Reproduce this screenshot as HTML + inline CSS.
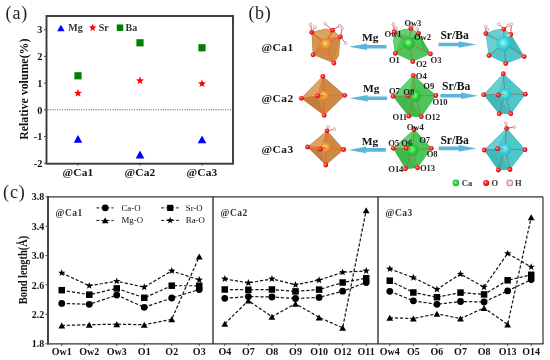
<!DOCTYPE html>
<html><head><meta charset="utf-8"><style>
html,body{margin:0;padding:0;background:#fff;}
svg{display:block;}
</style></head><body>
<svg width="550" height="360" viewBox="0 0 550 360" font-family="Liberation Serif, Times New Roman, serif">
<defs>
<radialGradient id="gO" cx="0.42" cy="0.42" r="0.65"><stop offset="0" stop-color="#ffe0e0"/><stop offset="0.3" stop-color="#ff3a3a"/><stop offset="0.75" stop-color="#e00808"/><stop offset="1" stop-color="#a80000"/></radialGradient>
<radialGradient id="gMg" cx="0.45" cy="0.42" r="0.65"><stop offset="0" stop-color="#ffd890"/><stop offset="0.4" stop-color="#f0a040"/><stop offset="1" stop-color="#d07418"/></radialGradient>
<radialGradient id="gSr" cx="0.45" cy="0.45" r="0.65"><stop offset="0" stop-color="#a8f4f4"/><stop offset="0.45" stop-color="#3cd6de"/><stop offset="1" stop-color="#22b0b8"/></radialGradient>
<radialGradient id="gCa" cx="0.45" cy="0.45" r="0.65"><stop offset="0" stop-color="#a0f8a8"/><stop offset="0.45" stop-color="#30d040"/><stop offset="1" stop-color="#18a828"/></radialGradient>
</defs>
<rect width="550" height="360" fill="#fff"/>
<text x="5.5" y="18.5" font-size="18" font-weight="normal" text-anchor="start" fill="#222" letter-spacing="0.9">(a)</text>
<line x1="47.5" y1="109.80" x2="232" y2="109.80" stroke="#666" stroke-width="1" stroke-dasharray="1.2,1.2"/>
<rect x="46.5" y="16" width="186.5" height="147.7" fill="none" stroke="#383838" stroke-width="1.9"/>
<line x1="44.0" y1="29.70" x2="46.5" y2="29.70" stroke="#444" stroke-width="1"/>
<text x="42.3" y="33.5" font-size="11.2" font-weight="bold" text-anchor="end" fill="#111" transform="translate(42.3,0) scale(0.92,1) translate(-42.3,0)">3</text>
<line x1="44.0" y1="56.40" x2="46.5" y2="56.40" stroke="#444" stroke-width="1"/>
<text x="42.3" y="60.199999999999996" font-size="11.2" font-weight="bold" text-anchor="end" fill="#111" transform="translate(42.3,0) scale(0.92,1) translate(-42.3,0)">2</text>
<line x1="44.0" y1="83.10" x2="46.5" y2="83.10" stroke="#444" stroke-width="1"/>
<text x="42.3" y="86.89999999999999" font-size="11.2" font-weight="bold" text-anchor="end" fill="#111" transform="translate(42.3,0) scale(0.92,1) translate(-42.3,0)">1</text>
<line x1="44.0" y1="109.80" x2="46.5" y2="109.80" stroke="#444" stroke-width="1"/>
<text x="42.3" y="113.6" font-size="11.2" font-weight="bold" text-anchor="end" fill="#111" transform="translate(42.3,0) scale(0.92,1) translate(-42.3,0)">0</text>
<line x1="44.0" y1="136.50" x2="46.5" y2="136.50" stroke="#444" stroke-width="1"/>
<text x="42.3" y="140.3" font-size="11.2" font-weight="bold" text-anchor="end" fill="#111" transform="translate(42.3,0) scale(0.92,1) translate(-42.3,0)">-1</text>
<line x1="44.0" y1="163.20" x2="46.5" y2="163.20" stroke="#444" stroke-width="1"/>
<text x="42.3" y="167.0" font-size="11.2" font-weight="bold" text-anchor="end" fill="#111" transform="translate(42.3,0) scale(0.92,1) translate(-42.3,0)">-2</text>
<line x1="78" y1="163.7" x2="78" y2="165.7" stroke="#444" stroke-width="1"/>
<text x="78" y="176.2" font-size="11.4" font-weight="bold" text-anchor="middle" fill="#111" letter-spacing="0.2">@Ca1</text>
<line x1="140" y1="163.7" x2="140" y2="165.7" stroke="#444" stroke-width="1"/>
<text x="140" y="176.2" font-size="11.4" font-weight="bold" text-anchor="middle" fill="#111" letter-spacing="0.2">@Ca2</text>
<line x1="202" y1="163.7" x2="202" y2="165.7" stroke="#444" stroke-width="1"/>
<text x="202" y="176.2" font-size="11.4" font-weight="bold" text-anchor="middle" fill="#111" letter-spacing="0.2">@Ca3</text>
<text x="0" y="0" font-size="13" font-weight="bold" text-anchor="middle" fill="#111" transform="translate(27.9,89.2) rotate(-90) scale(0.915,1)">Relative volume(%)</text>
<polygon points="57.15,31.15 64.65,31.15 60.90,24.65" fill="#0000ff"/>
<text x="68.2" y="31" font-size="10" font-weight="bold" text-anchor="start" fill="#333" >Mg</text>
<polygon points="92.70,23.70 93.69,26.34 96.50,26.46 94.30,28.22 95.05,30.94 92.70,29.38 90.35,30.94 91.10,28.22 88.90,26.46 91.71,26.34" fill="#ff0000"/>
<text x="98.7" y="31" font-size="10" font-weight="bold" text-anchor="start" fill="#333" >Sr</text>
<rect x="116.75" y="24.45" width="6.5" height="6.5" fill="#007f00"/>
<text x="125.5" y="31" font-size="10" font-weight="bold" text-anchor="start" fill="#333" >Ba</text>
<rect x="74.40" y="72.20" width="7.2" height="7.2" fill="#007f00"/>
<polygon points="78.00,89.10 79.04,91.87 81.99,92.00 79.68,93.85 80.47,96.70 78.00,95.06 75.53,96.70 76.32,93.85 74.01,92.00 76.96,91.87" fill="#ff0000"/>
<polygon points="73.70,142.70 82.30,142.70 78.00,134.90" fill="#0000ff"/>
<rect x="136.40" y="39.20" width="7.2" height="7.2" fill="#007f00"/>
<polygon points="140.00,76.60 141.04,79.37 143.99,79.50 141.68,81.35 142.47,84.20 140.00,82.56 137.53,84.20 138.32,81.35 136.01,79.50 138.96,79.37" fill="#ff0000"/>
<polygon points="135.70,158.40 144.30,158.40 140.00,150.60" fill="#0000ff"/>
<rect x="198.40" y="44.20" width="7.2" height="7.2" fill="#007f00"/>
<polygon points="202.00,79.50 203.04,82.27 205.99,82.40 203.68,84.25 204.47,87.10 202.00,85.46 199.53,87.10 200.32,84.25 198.01,82.40 200.96,82.27" fill="#ff0000"/>
<polygon points="197.70,143.20 206.30,143.20 202.00,135.40" fill="#0000ff"/>
<text x="3" y="197.5" font-size="18" font-weight="normal" text-anchor="start" fill="#222" letter-spacing="0.9">(c)</text>
<line x1="48" y1="196.9" x2="543" y2="196.9" stroke="#333" stroke-width="1.3"/>
<line x1="543" y1="196.9" x2="543" y2="343.9" stroke="#333" stroke-width="1.2"/>
<line x1="47.8" y1="343.9" x2="543.6" y2="343.9" stroke="#333" stroke-width="1.4"/>
<line x1="48" y1="196.3" x2="48" y2="344.59999999999997" stroke="#444" stroke-width="2"/>
<line x1="213" y1="196.9" x2="213" y2="343.9" stroke="#333" stroke-width="1.4"/>
<line x1="378" y1="196.9" x2="378" y2="343.9" stroke="#333" stroke-width="1.4"/>
<line x1="45.5" y1="196.80" x2="48" y2="196.80" stroke="#444" stroke-width="1"/>
<text x="44.2" y="200.30000000000004" font-size="10" font-weight="bold" text-anchor="end" fill="#111" >3.8</text>
<line x1="45.5" y1="226.20" x2="48" y2="226.20" stroke="#444" stroke-width="1"/>
<text x="44.2" y="229.70000000000002" font-size="10" font-weight="bold" text-anchor="end" fill="#111" >3.4</text>
<line x1="45.5" y1="255.60" x2="48" y2="255.60" stroke="#444" stroke-width="1"/>
<text x="44.2" y="259.1" font-size="10" font-weight="bold" text-anchor="end" fill="#111" >3.0</text>
<line x1="45.5" y1="285.00" x2="48" y2="285.00" stroke="#444" stroke-width="1"/>
<text x="44.2" y="288.5" font-size="10" font-weight="bold" text-anchor="end" fill="#111" >2.6</text>
<line x1="45.5" y1="314.40" x2="48" y2="314.40" stroke="#444" stroke-width="1"/>
<text x="44.2" y="317.9" font-size="10" font-weight="bold" text-anchor="end" fill="#111" >2.2</text>
<line x1="45.5" y1="343.80" x2="48" y2="343.80" stroke="#444" stroke-width="1"/>
<text x="44.2" y="347.3" font-size="10" font-weight="bold" text-anchor="end" fill="#111" >1.8</text>
<text x="0" y="0" font-size="11.8" font-weight="bold" text-anchor="middle" fill="#111" transform="translate(26.6,270) rotate(-90) scale(0.88,1)">Bond length(Å)</text>
<line x1="61.75" y1="343.9" x2="61.75" y2="345.9" stroke="#444" stroke-width="1"/>
<text x="61.75" y="354.6" font-size="10" font-weight="bold" text-anchor="middle" fill="#111" >Ow1</text>
<line x1="89.25" y1="343.9" x2="89.25" y2="345.9" stroke="#444" stroke-width="1"/>
<text x="89.25" y="354.6" font-size="10" font-weight="bold" text-anchor="middle" fill="#111" >Ow2</text>
<line x1="116.75" y1="343.9" x2="116.75" y2="345.9" stroke="#444" stroke-width="1"/>
<text x="116.75" y="354.6" font-size="10" font-weight="bold" text-anchor="middle" fill="#111" >Ow3</text>
<line x1="144.25" y1="343.9" x2="144.25" y2="345.9" stroke="#444" stroke-width="1"/>
<text x="144.25" y="354.6" font-size="10" font-weight="bold" text-anchor="middle" fill="#111" >O1</text>
<line x1="171.75" y1="343.9" x2="171.75" y2="345.9" stroke="#444" stroke-width="1"/>
<text x="171.75" y="354.6" font-size="10" font-weight="bold" text-anchor="middle" fill="#111" >O2</text>
<line x1="199.25" y1="343.9" x2="199.25" y2="345.9" stroke="#444" stroke-width="1"/>
<text x="199.25" y="354.6" font-size="10" font-weight="bold" text-anchor="middle" fill="#111" >O3</text>
<polyline points="61.75,273.00 89.25,285.70 116.75,281.20 144.25,287.10 171.75,270.90 199.25,279.90" fill="none" stroke="#111" stroke-width="1.2" stroke-dasharray="3.2,1.9"/>
<polyline points="61.75,290.20 89.25,294.70 116.75,288.40 144.25,297.80 171.75,285.70 199.25,285.80" fill="none" stroke="#111" stroke-width="1.2" stroke-dasharray="3.2,1.9"/>
<polyline points="61.75,303.40 89.25,304.30 116.75,295.10 144.25,307.30 171.75,298.00 199.25,289.50" fill="none" stroke="#111" stroke-width="1.2" stroke-dasharray="3.2,1.9"/>
<polyline points="61.75,325.50 89.25,324.70 116.75,324.20 144.25,324.70 171.75,319.30 199.25,256.50" fill="none" stroke="#111" stroke-width="1.2" stroke-dasharray="3.2,1.9"/>
<polygon points="61.75,269.20 62.69,271.71 65.36,271.83 63.27,273.49 63.98,276.07 61.75,274.60 59.52,276.07 60.23,273.49 58.14,271.83 60.81,271.71" fill="#000"/>
<rect x="58.50" y="286.95" width="6.5" height="6.5" fill="#000"/>
<circle cx="61.75" cy="303.40" r="3.4" fill="#000"/>
<polygon points="58.35,328.50 65.15,328.50 61.75,322.50" fill="#000"/>
<polygon points="89.25,281.90 90.19,284.41 92.86,284.53 90.77,286.19 91.48,288.77 89.25,287.30 87.02,288.77 87.73,286.19 85.64,284.53 88.31,284.41" fill="#000"/>
<rect x="86.00" y="291.45" width="6.5" height="6.5" fill="#000"/>
<circle cx="89.25" cy="304.30" r="3.4" fill="#000"/>
<polygon points="85.85,327.70 92.65,327.70 89.25,321.70" fill="#000"/>
<polygon points="116.75,277.40 117.69,279.91 120.36,280.03 118.27,281.69 118.98,284.27 116.75,282.80 114.52,284.27 115.23,281.69 113.14,280.03 115.81,279.91" fill="#000"/>
<rect x="113.50" y="285.15" width="6.5" height="6.5" fill="#000"/>
<circle cx="116.75" cy="295.10" r="3.4" fill="#000"/>
<polygon points="113.35,327.20 120.15,327.20 116.75,321.20" fill="#000"/>
<polygon points="144.25,283.30 145.19,285.81 147.86,285.93 145.77,287.59 146.48,290.17 144.25,288.70 142.02,290.17 142.73,287.59 140.64,285.93 143.31,285.81" fill="#000"/>
<rect x="141.00" y="294.55" width="6.5" height="6.5" fill="#000"/>
<circle cx="144.25" cy="307.30" r="3.4" fill="#000"/>
<polygon points="140.85,327.70 147.65,327.70 144.25,321.70" fill="#000"/>
<polygon points="171.75,267.10 172.69,269.61 175.36,269.73 173.27,271.39 173.98,273.97 171.75,272.50 169.52,273.97 170.23,271.39 168.14,269.73 170.81,269.61" fill="#000"/>
<rect x="168.50" y="282.45" width="6.5" height="6.5" fill="#000"/>
<circle cx="171.75" cy="298.00" r="3.4" fill="#000"/>
<polygon points="168.35,322.30 175.15,322.30 171.75,316.30" fill="#000"/>
<polygon points="199.25,276.10 200.19,278.61 202.86,278.73 200.77,280.39 201.48,282.97 199.25,281.50 197.02,282.97 197.73,280.39 195.64,278.73 198.31,278.61" fill="#000"/>
<rect x="196.00" y="282.55" width="6.5" height="6.5" fill="#000"/>
<circle cx="199.25" cy="289.50" r="3.4" fill="#000"/>
<polygon points="195.85,259.50 202.65,259.50 199.25,253.50" fill="#000"/>
<line x1="224.79" y1="343.9" x2="224.79" y2="345.9" stroke="#444" stroke-width="1"/>
<text x="224.79" y="354.6" font-size="10" font-weight="bold" text-anchor="middle" fill="#111" >O4</text>
<line x1="248.36" y1="343.9" x2="248.36" y2="345.9" stroke="#444" stroke-width="1"/>
<text x="248.36" y="354.6" font-size="10" font-weight="bold" text-anchor="middle" fill="#111" >O7</text>
<line x1="271.93" y1="343.9" x2="271.93" y2="345.9" stroke="#444" stroke-width="1"/>
<text x="271.93" y="354.6" font-size="10" font-weight="bold" text-anchor="middle" fill="#111" >O8</text>
<line x1="295.50" y1="343.9" x2="295.50" y2="345.9" stroke="#444" stroke-width="1"/>
<text x="295.50" y="354.6" font-size="10" font-weight="bold" text-anchor="middle" fill="#111" >O9</text>
<line x1="319.07" y1="343.9" x2="319.07" y2="345.9" stroke="#444" stroke-width="1"/>
<text x="319.07" y="354.6" font-size="10" font-weight="bold" text-anchor="middle" fill="#111" >O10</text>
<line x1="342.64" y1="343.9" x2="342.64" y2="345.9" stroke="#444" stroke-width="1"/>
<text x="342.64" y="354.6" font-size="10" font-weight="bold" text-anchor="middle" fill="#111" >O12</text>
<line x1="366.21" y1="343.9" x2="366.21" y2="345.9" stroke="#444" stroke-width="1"/>
<text x="366.21" y="354.6" font-size="10" font-weight="bold" text-anchor="middle" fill="#111" >O11</text>
<polyline points="224.79,278.90 248.36,282.90 271.93,278.90 295.50,284.80 319.07,280.10 342.64,272.30 366.21,270.90" fill="none" stroke="#111" stroke-width="1.2" stroke-dasharray="3.2,1.9"/>
<polyline points="224.79,289.50 248.36,289.80 271.93,289.50 295.50,291.40 319.07,289.60 342.64,282.50 366.21,278.20" fill="none" stroke="#111" stroke-width="1.2" stroke-dasharray="3.2,1.9"/>
<polyline points="224.79,298.30 248.36,296.60 271.93,297.00 295.50,298.50 319.07,297.40 342.64,291.20 366.21,282.50" fill="none" stroke="#111" stroke-width="1.2" stroke-dasharray="3.2,1.9"/>
<polyline points="224.79,323.80 248.36,300.60 271.93,316.70 295.50,303.70 319.07,317.40 342.64,327.80 366.21,210.30" fill="none" stroke="#111" stroke-width="1.2" stroke-dasharray="3.2,1.9"/>
<polygon points="224.79,275.10 225.72,277.61 228.40,277.73 226.30,279.39 227.02,281.97 224.79,280.50 222.55,281.97 223.27,279.39 221.17,277.73 223.85,277.61" fill="#000"/>
<rect x="221.54" y="286.25" width="6.5" height="6.5" fill="#000"/>
<circle cx="224.79" cy="298.30" r="3.4" fill="#000"/>
<polygon points="221.39,326.80 228.19,326.80 224.79,320.80" fill="#000"/>
<polygon points="248.36,279.10 249.30,281.61 251.97,281.73 249.88,283.39 250.59,285.97 248.36,284.50 246.12,285.97 246.84,283.39 244.74,281.73 247.42,281.61" fill="#000"/>
<rect x="245.11" y="286.55" width="6.5" height="6.5" fill="#000"/>
<circle cx="248.36" cy="296.60" r="3.4" fill="#000"/>
<polygon points="244.96,303.60 251.76,303.60 248.36,297.60" fill="#000"/>
<polygon points="271.93,275.10 272.87,277.61 275.54,277.73 273.45,279.39 274.16,281.97 271.93,280.50 269.69,281.97 270.41,279.39 268.31,277.73 270.99,277.61" fill="#000"/>
<rect x="268.68" y="286.25" width="6.5" height="6.5" fill="#000"/>
<circle cx="271.93" cy="297.00" r="3.4" fill="#000"/>
<polygon points="268.53,319.70 275.33,319.70 271.93,313.70" fill="#000"/>
<polygon points="295.50,281.00 296.44,283.51 299.11,283.63 297.02,285.29 297.73,287.87 295.50,286.40 293.27,287.87 293.98,285.29 291.89,283.63 294.56,283.51" fill="#000"/>
<rect x="292.25" y="288.15" width="6.5" height="6.5" fill="#000"/>
<circle cx="295.50" cy="298.50" r="3.4" fill="#000"/>
<polygon points="292.10,306.70 298.90,306.70 295.50,300.70" fill="#000"/>
<polygon points="319.07,276.30 320.01,278.81 322.69,278.93 320.59,280.59 321.31,283.17 319.07,281.70 316.84,283.17 317.55,280.59 315.46,278.93 318.13,278.81" fill="#000"/>
<rect x="315.82" y="286.35" width="6.5" height="6.5" fill="#000"/>
<circle cx="319.07" cy="297.40" r="3.4" fill="#000"/>
<polygon points="315.67,320.40 322.47,320.40 319.07,314.40" fill="#000"/>
<polygon points="342.64,268.50 343.58,271.01 346.26,271.13 344.16,272.79 344.88,275.37 342.64,273.90 340.41,275.37 341.12,272.79 339.03,271.13 341.70,271.01" fill="#000"/>
<rect x="339.39" y="279.25" width="6.5" height="6.5" fill="#000"/>
<circle cx="342.64" cy="291.20" r="3.4" fill="#000"/>
<polygon points="339.24,330.80 346.04,330.80 342.64,324.80" fill="#000"/>
<polygon points="366.21,267.10 367.15,269.61 369.83,269.73 367.73,271.39 368.45,273.97 366.21,272.50 363.98,273.97 364.70,271.39 362.60,269.73 365.28,269.61" fill="#000"/>
<rect x="362.96" y="274.95" width="6.5" height="6.5" fill="#000"/>
<circle cx="366.21" cy="282.50" r="3.4" fill="#000"/>
<polygon points="362.81,213.30 369.61,213.30 366.21,207.30" fill="#000"/>
<line x1="389.79" y1="343.9" x2="389.79" y2="345.9" stroke="#444" stroke-width="1"/>
<text x="389.79" y="354.6" font-size="10" font-weight="bold" text-anchor="middle" fill="#111" >Ow4</text>
<line x1="413.36" y1="343.9" x2="413.36" y2="345.9" stroke="#444" stroke-width="1"/>
<text x="413.36" y="354.6" font-size="10" font-weight="bold" text-anchor="middle" fill="#111" >O5</text>
<line x1="436.93" y1="343.9" x2="436.93" y2="345.9" stroke="#444" stroke-width="1"/>
<text x="436.93" y="354.6" font-size="10" font-weight="bold" text-anchor="middle" fill="#111" >O6</text>
<line x1="460.50" y1="343.9" x2="460.50" y2="345.9" stroke="#444" stroke-width="1"/>
<text x="460.50" y="354.6" font-size="10" font-weight="bold" text-anchor="middle" fill="#111" >O7</text>
<line x1="484.07" y1="343.9" x2="484.07" y2="345.9" stroke="#444" stroke-width="1"/>
<text x="484.07" y="354.6" font-size="10" font-weight="bold" text-anchor="middle" fill="#111" >O8</text>
<line x1="507.64" y1="343.9" x2="507.64" y2="345.9" stroke="#444" stroke-width="1"/>
<text x="507.64" y="354.6" font-size="10" font-weight="bold" text-anchor="middle" fill="#111" >O13</text>
<line x1="531.21" y1="343.9" x2="531.21" y2="345.9" stroke="#444" stroke-width="1"/>
<text x="531.21" y="354.6" font-size="10" font-weight="bold" text-anchor="middle" fill="#111" >O14</text>
<polyline points="389.79,268.90 413.36,277.60 436.93,289.40 460.50,274.10 484.07,287.10 507.64,253.50 531.21,267.00" fill="none" stroke="#111" stroke-width="1.2" stroke-dasharray="3.2,1.9"/>
<polyline points="389.79,280.70 413.36,292.50 436.93,297.20 460.50,292.60 484.07,294.40 507.64,280.30 531.21,274.80" fill="none" stroke="#111" stroke-width="1.2" stroke-dasharray="3.2,1.9"/>
<polyline points="389.79,291.30 413.36,300.80 436.93,304.30 460.50,301.50 484.07,302.00 507.64,290.90 531.21,279.60" fill="none" stroke="#111" stroke-width="1.2" stroke-dasharray="3.2,1.9"/>
<polyline points="389.79,317.80 413.36,318.50 436.93,313.80 460.50,318.60 484.07,307.90 507.64,324.50 531.21,217.20" fill="none" stroke="#111" stroke-width="1.2" stroke-dasharray="3.2,1.9"/>
<polygon points="389.79,265.10 390.72,267.61 393.40,267.73 391.30,269.39 392.02,271.97 389.79,270.50 387.55,271.97 388.27,269.39 386.17,267.73 388.85,267.61" fill="#000"/>
<rect x="386.54" y="277.45" width="6.5" height="6.5" fill="#000"/>
<circle cx="389.79" cy="291.30" r="3.4" fill="#000"/>
<polygon points="386.39,320.80 393.19,320.80 389.79,314.80" fill="#000"/>
<polygon points="413.36,273.80 414.30,276.31 416.97,276.43 414.88,278.09 415.59,280.67 413.36,279.20 411.12,280.67 411.84,278.09 409.74,276.43 412.42,276.31" fill="#000"/>
<rect x="410.11" y="289.25" width="6.5" height="6.5" fill="#000"/>
<circle cx="413.36" cy="300.80" r="3.4" fill="#000"/>
<polygon points="409.96,321.50 416.76,321.50 413.36,315.50" fill="#000"/>
<polygon points="436.93,285.60 437.87,288.11 440.54,288.23 438.45,289.89 439.16,292.47 436.93,291.00 434.69,292.47 435.41,289.89 433.31,288.23 435.99,288.11" fill="#000"/>
<rect x="433.68" y="293.95" width="6.5" height="6.5" fill="#000"/>
<circle cx="436.93" cy="304.30" r="3.4" fill="#000"/>
<polygon points="433.53,316.80 440.33,316.80 436.93,310.80" fill="#000"/>
<polygon points="460.50,270.30 461.44,272.81 464.11,272.93 462.02,274.59 462.73,277.17 460.50,275.70 458.27,277.17 458.98,274.59 456.89,272.93 459.56,272.81" fill="#000"/>
<rect x="457.25" y="289.35" width="6.5" height="6.5" fill="#000"/>
<circle cx="460.50" cy="301.50" r="3.4" fill="#000"/>
<polygon points="457.10,321.60 463.90,321.60 460.50,315.60" fill="#000"/>
<polygon points="484.07,283.30 485.01,285.81 487.69,285.93 485.59,287.59 486.31,290.17 484.07,288.70 481.84,290.17 482.55,287.59 480.46,285.93 483.13,285.81" fill="#000"/>
<rect x="480.82" y="291.15" width="6.5" height="6.5" fill="#000"/>
<circle cx="484.07" cy="302.00" r="3.4" fill="#000"/>
<polygon points="480.67,310.90 487.47,310.90 484.07,304.90" fill="#000"/>
<polygon points="507.64,249.70 508.58,252.21 511.26,252.33 509.16,253.99 509.88,256.57 507.64,255.10 505.41,256.57 506.12,253.99 504.03,252.33 506.70,252.21" fill="#000"/>
<rect x="504.39" y="277.05" width="6.5" height="6.5" fill="#000"/>
<circle cx="507.64" cy="290.90" r="3.4" fill="#000"/>
<polygon points="504.24,327.50 511.04,327.50 507.64,321.50" fill="#000"/>
<polygon points="531.21,263.20 532.15,265.71 534.83,265.83 532.73,267.49 533.45,270.07 531.21,268.60 528.98,270.07 529.70,267.49 527.60,265.83 530.28,265.71" fill="#000"/>
<rect x="527.96" y="271.55" width="6.5" height="6.5" fill="#000"/>
<circle cx="531.21" cy="279.60" r="3.4" fill="#000"/>
<polygon points="527.81,220.20 534.61,220.20 531.21,214.20" fill="#000"/>
<text x="55.5" y="215.6" font-size="9.5" font-weight="bold" text-anchor="start" fill="#333" letter-spacing="0.55">@Ca1</text>
<text x="220.5" y="215.6" font-size="9.5" font-weight="bold" text-anchor="start" fill="#333" letter-spacing="0.55">@Ca2</text>
<text x="385.5" y="215.6" font-size="9.5" font-weight="bold" text-anchor="start" fill="#333" letter-spacing="0.55">@Ca3</text>
<line x1="96.4" y1="207.9" x2="113.6" y2="207.9" stroke="#111" stroke-width="1" stroke-dasharray="3,2"/>
<circle cx="105.20" cy="207.90" r="3.3" fill="#000"/>
<text x="121.5" y="210.9" font-size="8.8" font-weight="normal" text-anchor="start" fill="#111" >Ca-O</text>
<line x1="96.4" y1="220.4" x2="113.6" y2="220.4" stroke="#111" stroke-width="1" stroke-dasharray="3,2"/>
<polygon points="101.90,223.30 108.50,223.30 105.20,217.50" fill="#000"/>
<text x="121.5" y="223.3" font-size="8.8" font-weight="normal" text-anchor="start" fill="#111" >Mg-O</text>
<line x1="161.2" y1="207.9" x2="178.8" y2="207.9" stroke="#111" stroke-width="1" stroke-dasharray="3,2"/>
<rect x="167.10" y="204.80" width="6.2" height="6.2" fill="#000"/>
<text x="185.8" y="210.9" font-size="8.8" font-weight="normal" text-anchor="start" fill="#111" >Sr-O</text>
<line x1="161.2" y1="220.4" x2="178.8" y2="220.4" stroke="#111" stroke-width="1" stroke-dasharray="3,2"/>
<polygon points="170.20,216.80 171.09,219.18 173.62,219.29 171.64,220.87 172.32,223.31 170.20,221.91 168.08,223.31 168.76,220.87 166.78,219.29 169.31,219.18" fill="#000"/>
<text x="185.8" y="223.3" font-size="8.8" font-weight="normal" text-anchor="start" fill="#111" >Ba-O</text>
<polygon points="311.7,32.3 326.0,28.8 332.5,30.2 340.4,36.8 338.6,56.0 333.9,63.1 313.0,54.8" fill="#cc8a48" fill-opacity="1" stroke="none"/>
<polygon points="311.7,32.3 326.0,28.8 332.5,30.2 340.4,36.8 321.0,38.5" fill="#dba462" fill-opacity="1" stroke="none"/>
<polygon points="311.7,32.3 321.0,38.5 313.0,54.8" fill="#d49654" fill-opacity="1" stroke="none"/>
<polygon points="340.4,36.8 338.6,56.0 333.9,63.1" fill="#d49654" fill-opacity="1" stroke="none"/>
<polygon points="311.7,32.3 326.0,28.8 332.5,30.2 340.4,36.8 338.6,56.0 333.9,63.1 313.0,54.8" fill="none" stroke="#a86428" stroke-width="0.5" stroke-opacity="0.6"/>
<line x1="325.8" y1="44.4" x2="311.7" y2="32.3" stroke="#f06c28" stroke-width="1.6" stroke-opacity="1"/>
<line x1="325.8" y1="44.4" x2="332.5" y2="30.2" stroke="#f06c28" stroke-width="1.6" stroke-opacity="1"/>
<line x1="325.8" y1="44.4" x2="340.4" y2="36.8" stroke="#f06c28" stroke-width="1.6" stroke-opacity="1"/>
<line x1="325.8" y1="44.4" x2="313.0" y2="54.8" stroke="#f06c28" stroke-width="1.6" stroke-opacity="1"/>
<line x1="325.8" y1="44.4" x2="333.9" y2="63.1" stroke="#f06c28" stroke-width="1.6" stroke-opacity="1"/>
<circle cx="325.8" cy="44.4" r="5.8" fill="url(#gMg)"/>
<circle cx="311.7" cy="32.3" r="2.4" fill="url(#gO)"/>
<circle cx="332.5" cy="30.2" r="2.4" fill="url(#gO)"/>
<circle cx="340.4" cy="36.8" r="2.4" fill="url(#gO)"/>
<circle cx="313.0" cy="54.8" r="2.4" fill="url(#gO)"/>
<circle cx="333.9" cy="63.1" r="2.4" fill="url(#gO)"/>
<line x1="311.7" y1="32.3" x2="310.6" y2="24.3" stroke="#e04040" stroke-width="0.9" stroke-opacity="1"/>
<line x1="311.7" y1="32.3" x2="315.0" y2="27.4" stroke="#e04040" stroke-width="0.9" stroke-opacity="1"/>
<line x1="332.5" y1="30.2" x2="325.1" y2="23.8" stroke="#e04040" stroke-width="0.9" stroke-opacity="1"/>
<line x1="332.5" y1="30.2" x2="340.0" y2="25.6" stroke="#e04040" stroke-width="0.9" stroke-opacity="1"/>
<line x1="340.4" y1="36.8" x2="342.2" y2="28.3" stroke="#e04040" stroke-width="0.9" stroke-opacity="1"/>
<line x1="340.4" y1="36.8" x2="345.6" y2="43.0" stroke="#e04040" stroke-width="0.9" stroke-opacity="1"/>
<circle cx="310.6" cy="24.3" r="1.4" fill="#fdf0f0" stroke="#c8959c" stroke-width="0.7"/>
<circle cx="315.0" cy="27.4" r="1.4" fill="#fdf0f0" stroke="#c8959c" stroke-width="0.7"/>
<circle cx="325.1" cy="23.8" r="1.4" fill="#fdf0f0" stroke="#c8959c" stroke-width="0.7"/>
<circle cx="340.0" cy="25.6" r="1.4" fill="#fdf0f0" stroke="#c8959c" stroke-width="0.7"/>
<circle cx="342.2" cy="28.3" r="1.4" fill="#fdf0f0" stroke="#c8959c" stroke-width="0.7"/>
<circle cx="345.6" cy="43.0" r="1.4" fill="#fdf0f0" stroke="#c8959c" stroke-width="0.7"/>
<polygon points="394.2,31.9 404.0,29.5 410.9,28.4 418.6,33.3 430.4,53.8 412.7,61.5 395.2,53.4 393.5,42.0" fill="#4cc55c" fill-opacity="1" stroke="none"/>
<polygon points="394.2,31.9 404.0,29.5 410.9,28.4 418.6,33.3 412.0,37.0" fill="#66d074" fill-opacity="1" stroke="none"/>
<polygon points="394.2,31.9 401.0,38.0 395.2,53.4 393.5,42.0" fill="#66d074" fill-opacity="1" stroke="none"/>
<polygon points="418.6,33.3 430.4,53.8 422.0,48.0" fill="#40b850" fill-opacity="1" stroke="none"/>
<polygon points="394.2,31.9 404.0,29.5 410.9,28.4 418.6,33.3 430.4,53.8 412.7,61.5 395.2,53.4 393.5,42.0" fill="none" stroke="#2f9a3c" stroke-width="0.5" stroke-opacity="0.6"/>
<line x1="408.8" y1="43.0" x2="394.2" y2="31.9" stroke="#a0783a" stroke-width="1.1" stroke-opacity="0.8"/>
<line x1="408.8" y1="43.0" x2="410.9" y2="28.4" stroke="#a0783a" stroke-width="1.1" stroke-opacity="0.8"/>
<line x1="408.8" y1="43.0" x2="418.6" y2="33.3" stroke="#a0783a" stroke-width="1.1" stroke-opacity="0.8"/>
<line x1="408.8" y1="43.0" x2="395.2" y2="53.4" stroke="#a0783a" stroke-width="1.1" stroke-opacity="0.8"/>
<line x1="408.8" y1="43.0" x2="412.7" y2="61.5" stroke="#a0783a" stroke-width="1.1" stroke-opacity="0.8"/>
<line x1="408.8" y1="43.0" x2="430.4" y2="53.8" stroke="#a0783a" stroke-width="1.1" stroke-opacity="0.8"/>
<circle cx="408.8" cy="43.0" r="6.1" fill="url(#gCa)"/>
<circle cx="394.2" cy="31.9" r="2.4" fill="url(#gO)"/>
<circle cx="410.9" cy="28.4" r="2.4" fill="url(#gO)"/>
<circle cx="418.6" cy="33.3" r="2.4" fill="url(#gO)"/>
<circle cx="395.2" cy="53.4" r="2.4" fill="url(#gO)"/>
<circle cx="412.7" cy="61.5" r="2.4" fill="url(#gO)"/>
<circle cx="430.4" cy="53.8" r="2.4" fill="url(#gO)"/>
<line x1="394.2" y1="31.9" x2="393.4" y2="24.2" stroke="#e04040" stroke-width="0.9" stroke-opacity="1"/>
<line x1="394.2" y1="31.9" x2="395.9" y2="28.3" stroke="#e04040" stroke-width="0.9" stroke-opacity="1"/>
<line x1="410.9" y1="28.4" x2="409.0" y2="25.0" stroke="#e04040" stroke-width="0.9" stroke-opacity="1"/>
<line x1="410.9" y1="28.4" x2="413.0" y2="25.5" stroke="#e04040" stroke-width="0.9" stroke-opacity="1"/>
<line x1="418.6" y1="33.3" x2="417.2" y2="28.8" stroke="#e04040" stroke-width="0.9" stroke-opacity="1"/>
<circle cx="393.4" cy="24.2" r="1.4" fill="#fdf0f0" stroke="#c8959c" stroke-width="0.7"/>
<circle cx="395.9" cy="28.3" r="1.4" fill="#fdf0f0" stroke="#c8959c" stroke-width="0.7"/>
<circle cx="409.0" cy="25.0" r="1.4" fill="#fdf0f0" stroke="#c8959c" stroke-width="0.7"/>
<circle cx="413.0" cy="25.5" r="1.4" fill="#fdf0f0" stroke="#c8959c" stroke-width="0.7"/>
<circle cx="417.2" cy="28.8" r="1.4" fill="#fdf0f0" stroke="#c8959c" stroke-width="0.7"/>
<polygon points="485.8,33.6 495.0,30.0 503.9,29.1 510.8,34.4 524.2,56.6 505.7,63.6 489.0,55.5" fill="#4ec6ca" fill-opacity="1" stroke="none"/>
<polygon points="485.8,33.6 489.0,55.5 497.0,50.0 503.9,43.5" fill="#68d0d4" fill-opacity="1" stroke="none"/>
<polygon points="510.8,34.4 524.2,56.6 503.9,43.5" fill="#40b8bc" fill-opacity="1" stroke="none"/>
<polygon points="485.8,33.6 495.0,30.0 503.9,29.1 510.8,34.4 503.9,43.5" fill="#68d0d4" fill-opacity="1" stroke="none"/>
<polygon points="485.8,33.6 495.0,30.0 503.9,29.1 510.8,34.4 524.2,56.6 505.7,63.6 489.0,55.5" fill="none" stroke="#2e9ea2" stroke-width="0.5" stroke-opacity="0.6"/>
<line x1="503.9" y1="43.5" x2="485.8" y2="33.6" stroke="#8a7060" stroke-width="1.1" stroke-opacity="0.7"/>
<line x1="503.9" y1="43.5" x2="503.9" y2="29.1" stroke="#8a7060" stroke-width="1.1" stroke-opacity="0.7"/>
<line x1="503.9" y1="43.5" x2="510.8" y2="34.4" stroke="#8a7060" stroke-width="1.1" stroke-opacity="0.7"/>
<line x1="503.9" y1="43.5" x2="489.0" y2="55.5" stroke="#8a7060" stroke-width="1.1" stroke-opacity="0.7"/>
<line x1="503.9" y1="43.5" x2="505.7" y2="63.6" stroke="#8a7060" stroke-width="1.1" stroke-opacity="0.7"/>
<line x1="503.9" y1="43.5" x2="524.2" y2="56.6" stroke="#8a7060" stroke-width="1.1" stroke-opacity="0.7"/>
<circle cx="503.9" cy="43.5" r="7.4" fill="url(#gSr)"/>
<circle cx="485.8" cy="33.6" r="2.4" fill="url(#gO)"/>
<circle cx="503.9" cy="29.1" r="2.4" fill="url(#gO)"/>
<circle cx="510.8" cy="34.4" r="2.4" fill="url(#gO)"/>
<circle cx="489.0" cy="55.5" r="2.4" fill="url(#gO)"/>
<circle cx="505.7" cy="63.6" r="2.4" fill="url(#gO)"/>
<circle cx="524.2" cy="56.6" r="2.4" fill="url(#gO)"/>
<line x1="485.8" y1="33.6" x2="485.8" y2="26.6" stroke="#e04040" stroke-width="0.9" stroke-opacity="1"/>
<line x1="485.8" y1="33.6" x2="487.5" y2="29.5" stroke="#e04040" stroke-width="0.9" stroke-opacity="1"/>
<line x1="503.9" y1="29.1" x2="498.8" y2="24.3" stroke="#e04040" stroke-width="0.9" stroke-opacity="1"/>
<line x1="503.9" y1="29.1" x2="508.0" y2="25.5" stroke="#e04040" stroke-width="0.9" stroke-opacity="1"/>
<line x1="510.8" y1="34.4" x2="511.3" y2="24.3" stroke="#e04040" stroke-width="0.9" stroke-opacity="1"/>
<circle cx="485.8" cy="26.6" r="1.4" fill="#fdf0f0" stroke="#c8959c" stroke-width="0.7"/>
<circle cx="487.5" cy="29.5" r="1.4" fill="#fdf0f0" stroke="#c8959c" stroke-width="0.7"/>
<circle cx="498.8" cy="24.3" r="1.4" fill="#fdf0f0" stroke="#c8959c" stroke-width="0.7"/>
<circle cx="508.0" cy="25.5" r="1.4" fill="#fdf0f0" stroke="#c8959c" stroke-width="0.7"/>
<circle cx="511.3" cy="24.3" r="1.4" fill="#fdf0f0" stroke="#c8959c" stroke-width="0.7"/>
<circle cx="508.5" cy="35.4" r="1.4" fill="#fdf0f0" stroke="#c8959c" stroke-width="0.7"/>
<polygon points="322.8,76.3 344.7,95.3 324.2,115.3 301.3,98.3" fill="#cc8a48" fill-opacity="1" stroke="none"/>
<polygon points="322.8,76.3 301.3,98.3 317.5,95.8" fill="#dba462" fill-opacity="1" stroke="none"/>
<polygon points="322.8,76.3 317.5,95.8 344.7,95.3" fill="#cc8a48" fill-opacity="1" stroke="none"/>
<polygon points="301.3,98.3 324.2,115.3 317.5,95.8" fill="#c27e3e" fill-opacity="1" stroke="none"/>
<polygon points="317.5,95.8 324.2,115.3 344.7,95.3" fill="#cc8a48" fill-opacity="1" stroke="none"/>
<polygon points="322.8,76.3 344.7,95.3 324.2,115.3 301.3,98.3" fill="none" stroke="#a86428" stroke-width="0.5" stroke-opacity="0.6"/>
<line x1="324.2" y1="95.8" x2="322.8" y2="76.3" stroke="#f06c28" stroke-width="1.6" stroke-opacity="1"/>
<line x1="324.2" y1="95.8" x2="301.3" y2="98.3" stroke="#f06c28" stroke-width="1.6" stroke-opacity="1"/>
<line x1="324.2" y1="95.8" x2="344.7" y2="95.3" stroke="#f06c28" stroke-width="1.6" stroke-opacity="1"/>
<line x1="324.2" y1="95.8" x2="324.2" y2="115.3" stroke="#f06c28" stroke-width="1.6" stroke-opacity="1"/>
<circle cx="324.2" cy="95.8" r="5.4" fill="url(#gMg)"/>
<circle cx="322.8" cy="76.3" r="2.4" fill="url(#gO)"/>
<circle cx="301.3" cy="98.3" r="2.4" fill="url(#gO)"/>
<circle cx="344.7" cy="95.3" r="2.4" fill="url(#gO)"/>
<circle cx="324.2" cy="115.3" r="2.4" fill="url(#gO)"/>
<line x1="324.2" y1="95.8" x2="317.5" y2="95.8" stroke="#f06c28" stroke-width="1.6" stroke-opacity="1"/>
<circle cx="317.5" cy="95.8" r="2.4" fill="url(#gO)"/>
<polygon points="327.0,130.8 343.7,149.5 325.8,165.0 307.5,147.0" fill="#cc8a48" fill-opacity="1" stroke="none"/>
<polygon points="327.0,130.8 307.5,147.0 320.3,149.2" fill="#dba462" fill-opacity="1" stroke="none"/>
<polygon points="327.0,130.8 320.3,149.2 343.7,149.5" fill="#cc8a48" fill-opacity="1" stroke="none"/>
<polygon points="307.5,147.0 325.8,165.0 320.3,149.2" fill="#c27e3e" fill-opacity="1" stroke="none"/>
<polygon points="320.3,149.2 325.8,165.0 343.7,149.5" fill="#cc8a48" fill-opacity="1" stroke="none"/>
<polygon points="327.0,130.8 343.7,149.5 325.8,165.0 307.5,147.0" fill="none" stroke="#a86428" stroke-width="0.5" stroke-opacity="0.6"/>
<line x1="325.8" y1="147.5" x2="327.0" y2="130.8" stroke="#f06c28" stroke-width="1.6" stroke-opacity="1"/>
<line x1="325.8" y1="147.5" x2="307.5" y2="147.0" stroke="#f06c28" stroke-width="1.6" stroke-opacity="1"/>
<line x1="325.8" y1="147.5" x2="343.7" y2="149.5" stroke="#f06c28" stroke-width="1.6" stroke-opacity="1"/>
<line x1="325.8" y1="147.5" x2="325.8" y2="165.0" stroke="#f06c28" stroke-width="1.6" stroke-opacity="1"/>
<circle cx="325.8" cy="147.5" r="5.4" fill="url(#gMg)"/>
<circle cx="327.0" cy="130.8" r="2.4" fill="url(#gO)"/>
<circle cx="307.5" cy="147.0" r="2.4" fill="url(#gO)"/>
<circle cx="343.7" cy="149.5" r="2.4" fill="url(#gO)"/>
<circle cx="325.8" cy="165.0" r="2.4" fill="url(#gO)"/>
<line x1="325.8" y1="147.5" x2="320.3" y2="149.2" stroke="#f06c28" stroke-width="1.6" stroke-opacity="1"/>
<circle cx="320.3" cy="149.2" r="2.4" fill="url(#gO)"/>
<line x1="327.0" y1="130.8" x2="328.3" y2="127.0" stroke="#e04040" stroke-width="0.9" stroke-opacity="1"/>
<line x1="327.0" y1="130.8" x2="334.2" y2="129.2" stroke="#e04040" stroke-width="0.9" stroke-opacity="1"/>
<circle cx="328.3" cy="127.0" r="1.4" fill="#fdf0f0" stroke="#c8959c" stroke-width="0.7"/>
<circle cx="334.2" cy="129.2" r="1.4" fill="#fdf0f0" stroke="#c8959c" stroke-width="0.7"/>
<polygon points="413.3,75.3 435.8,95.5 421.3,116.7 408.7,116.2 393.0,96.3" fill="#4cc55c" fill-opacity="1" stroke="none"/>
<polygon points="413.3,75.3 393.0,96.3 408.3,95.8" fill="#66d074" fill-opacity="1" stroke="none"/>
<polygon points="413.3,75.3 408.3,95.8 435.8,95.5" fill="#4cc55c" fill-opacity="1" stroke="none"/>
<polygon points="393.0,96.3 408.7,116.2 408.3,95.8" fill="#40b850" fill-opacity="1" stroke="none"/>
<polygon points="408.3,95.8 408.7,116.2 421.3,116.7" fill="#40b850" fill-opacity="1" stroke="none"/>
<polygon points="408.3,95.8 421.3,116.7 435.8,95.5" fill="#4cc55c" fill-opacity="1" stroke="none"/>
<polygon points="413.3,75.3 435.8,95.5 421.3,116.7 408.7,116.2 393.0,96.3" fill="none" stroke="#2f9a3c" stroke-width="0.5" stroke-opacity="0.6"/>
<line x1="415.0" y1="95.8" x2="413.3" y2="75.3" stroke="#a0783a" stroke-width="1.1" stroke-opacity="0.8"/>
<line x1="415.0" y1="95.8" x2="393.0" y2="96.3" stroke="#a0783a" stroke-width="1.1" stroke-opacity="0.8"/>
<line x1="415.0" y1="95.8" x2="435.8" y2="95.5" stroke="#a0783a" stroke-width="1.1" stroke-opacity="0.8"/>
<line x1="415.0" y1="95.8" x2="408.7" y2="116.2" stroke="#a0783a" stroke-width="1.1" stroke-opacity="0.8"/>
<line x1="415.0" y1="95.8" x2="421.3" y2="116.7" stroke="#a0783a" stroke-width="1.1" stroke-opacity="0.8"/>
<circle cx="415.0" cy="95.8" r="6" fill="url(#gCa)"/>
<circle cx="413.3" cy="75.3" r="2.4" fill="url(#gO)"/>
<circle cx="393.0" cy="96.3" r="2.4" fill="url(#gO)"/>
<circle cx="435.8" cy="95.5" r="2.4" fill="url(#gO)"/>
<circle cx="408.7" cy="116.2" r="2.4" fill="url(#gO)"/>
<circle cx="421.3" cy="116.7" r="2.4" fill="url(#gO)"/>
<line x1="415.0" y1="95.8" x2="408.3" y2="95.8" stroke="#a0783a" stroke-width="1.1" stroke-opacity="0.8"/>
<circle cx="408.3" cy="95.8" r="2.4" fill="url(#gO)"/>
<polygon points="414.2,129.5 431.3,148.3 417.5,167.8 405.5,168.7 393.3,148.3" fill="#4cc55c" fill-opacity="1" stroke="none"/>
<polygon points="414.2,129.5 393.3,148.3 406.2,148.0" fill="#66d074" fill-opacity="1" stroke="none"/>
<polygon points="414.2,129.5 406.2,148.0 431.3,148.3" fill="#4cc55c" fill-opacity="1" stroke="none"/>
<polygon points="393.3,148.3 405.5,168.7 406.2,148.0" fill="#40b850" fill-opacity="1" stroke="none"/>
<polygon points="406.2,148.0 405.5,168.7 417.5,167.8" fill="#40b850" fill-opacity="1" stroke="none"/>
<polygon points="406.2,148.0 417.5,167.8 431.3,148.3" fill="#4cc55c" fill-opacity="1" stroke="none"/>
<polygon points="414.2,129.5 431.3,148.3 417.5,167.8 405.5,168.7 393.3,148.3" fill="none" stroke="#2f9a3c" stroke-width="0.5" stroke-opacity="0.6"/>
<line x1="412.5" y1="150.0" x2="414.2" y2="129.5" stroke="#a0783a" stroke-width="1.1" stroke-opacity="0.8"/>
<line x1="412.5" y1="150.0" x2="393.3" y2="148.3" stroke="#a0783a" stroke-width="1.1" stroke-opacity="0.8"/>
<line x1="412.5" y1="150.0" x2="431.3" y2="148.3" stroke="#a0783a" stroke-width="1.1" stroke-opacity="0.8"/>
<line x1="412.5" y1="150.0" x2="405.5" y2="168.7" stroke="#a0783a" stroke-width="1.1" stroke-opacity="0.8"/>
<line x1="412.5" y1="150.0" x2="417.5" y2="167.8" stroke="#a0783a" stroke-width="1.1" stroke-opacity="0.8"/>
<circle cx="412.5" cy="150.0" r="6" fill="url(#gCa)"/>
<circle cx="414.2" cy="129.5" r="2.4" fill="url(#gO)"/>
<circle cx="393.3" cy="148.3" r="2.4" fill="url(#gO)"/>
<circle cx="431.3" cy="148.3" r="2.4" fill="url(#gO)"/>
<circle cx="405.5" cy="168.7" r="2.4" fill="url(#gO)"/>
<circle cx="417.5" cy="167.8" r="2.4" fill="url(#gO)"/>
<line x1="412.5" y1="150.0" x2="406.2" y2="148.0" stroke="#a0783a" stroke-width="1.1" stroke-opacity="0.8"/>
<circle cx="406.2" cy="148.0" r="2.4" fill="url(#gO)"/>
<polygon points="503.3,73.7 525.3,94.2 510.8,113.7 499.2,113.7 483.7,94.7" fill="#4ec6ca" fill-opacity="1" stroke="none"/>
<polygon points="503.3,73.7 483.7,94.7 498.3,95.0" fill="#68d0d4" fill-opacity="1" stroke="none"/>
<polygon points="503.3,73.7 498.3,95.0 525.3,94.2" fill="#4ec6ca" fill-opacity="1" stroke="none"/>
<polygon points="483.7,94.7 499.2,113.7 498.3,95.0" fill="#40b8bc" fill-opacity="1" stroke="none"/>
<polygon points="498.3,95.0 499.2,113.7 510.8,113.7" fill="#40b8bc" fill-opacity="1" stroke="none"/>
<polygon points="498.3,95.0 510.8,113.7 525.3,94.2" fill="#4ec6ca" fill-opacity="1" stroke="none"/>
<polygon points="503.3,73.7 525.3,94.2 510.8,113.7 499.2,113.7 483.7,94.7" fill="none" stroke="#2e9ea2" stroke-width="0.5" stroke-opacity="0.6"/>
<line x1="505.0" y1="94.2" x2="503.3" y2="73.7" stroke="#8a7060" stroke-width="1.1" stroke-opacity="0.7"/>
<line x1="505.0" y1="94.2" x2="483.7" y2="94.7" stroke="#8a7060" stroke-width="1.1" stroke-opacity="0.7"/>
<line x1="505.0" y1="94.2" x2="525.3" y2="94.2" stroke="#8a7060" stroke-width="1.1" stroke-opacity="0.7"/>
<line x1="505.0" y1="94.2" x2="499.2" y2="113.7" stroke="#8a7060" stroke-width="1.1" stroke-opacity="0.7"/>
<line x1="505.0" y1="94.2" x2="510.8" y2="113.7" stroke="#8a7060" stroke-width="1.1" stroke-opacity="0.7"/>
<circle cx="505.0" cy="94.2" r="6" fill="url(#gSr)"/>
<circle cx="503.3" cy="73.7" r="2.4" fill="url(#gO)"/>
<circle cx="483.7" cy="94.7" r="2.4" fill="url(#gO)"/>
<circle cx="525.3" cy="94.2" r="2.4" fill="url(#gO)"/>
<circle cx="499.2" cy="113.7" r="2.4" fill="url(#gO)"/>
<circle cx="510.8" cy="113.7" r="2.4" fill="url(#gO)"/>
<line x1="505.0" y1="94.2" x2="498.3" y2="95.0" stroke="#8a7060" stroke-width="1.1" stroke-opacity="0.7"/>
<circle cx="498.3" cy="95.0" r="2.4" fill="url(#gO)"/>
<polygon points="506.7,128.3 525.0,149.7 510.0,169.5 498.3,170.0 484.2,150.0" fill="#4ec6ca" fill-opacity="1" stroke="none"/>
<polygon points="506.7,128.3 484.2,150.0 497.5,148.7" fill="#68d0d4" fill-opacity="1" stroke="none"/>
<polygon points="506.7,128.3 497.5,148.7 525.0,149.7" fill="#4ec6ca" fill-opacity="1" stroke="none"/>
<polygon points="484.2,150.0 498.3,170.0 497.5,148.7" fill="#40b8bc" fill-opacity="1" stroke="none"/>
<polygon points="497.5,148.7 498.3,170.0 510.0,169.5" fill="#40b8bc" fill-opacity="1" stroke="none"/>
<polygon points="497.5,148.7 510.0,169.5 525.0,149.7" fill="#4ec6ca" fill-opacity="1" stroke="none"/>
<polygon points="506.7,128.3 525.0,149.7 510.0,169.5 498.3,170.0 484.2,150.0" fill="none" stroke="#2e9ea2" stroke-width="0.5" stroke-opacity="0.6"/>
<line x1="505.0" y1="149.2" x2="506.7" y2="128.3" stroke="#8a7060" stroke-width="1.1" stroke-opacity="0.7"/>
<line x1="505.0" y1="149.2" x2="484.2" y2="150.0" stroke="#8a7060" stroke-width="1.1" stroke-opacity="0.7"/>
<line x1="505.0" y1="149.2" x2="525.0" y2="149.7" stroke="#8a7060" stroke-width="1.1" stroke-opacity="0.7"/>
<line x1="505.0" y1="149.2" x2="498.3" y2="170.0" stroke="#8a7060" stroke-width="1.1" stroke-opacity="0.7"/>
<line x1="505.0" y1="149.2" x2="510.0" y2="169.5" stroke="#8a7060" stroke-width="1.1" stroke-opacity="0.7"/>
<circle cx="505.0" cy="149.2" r="6" fill="url(#gSr)"/>
<circle cx="506.7" cy="128.3" r="2.4" fill="url(#gO)"/>
<circle cx="484.2" cy="150.0" r="2.4" fill="url(#gO)"/>
<circle cx="525.0" cy="149.7" r="2.4" fill="url(#gO)"/>
<circle cx="498.3" cy="170.0" r="2.4" fill="url(#gO)"/>
<circle cx="510.0" cy="169.5" r="2.4" fill="url(#gO)"/>
<line x1="505.0" y1="149.2" x2="497.5" y2="148.7" stroke="#8a7060" stroke-width="1.1" stroke-opacity="0.7"/>
<circle cx="497.5" cy="148.7" r="2.4" fill="url(#gO)"/>
<line x1="506.7" y1="128.3" x2="505.8" y2="123.3" stroke="#e04040" stroke-width="0.9" stroke-opacity="1"/>
<line x1="506.7" y1="128.3" x2="514.2" y2="127.0" stroke="#e04040" stroke-width="0.9" stroke-opacity="1"/>
<circle cx="505.8" cy="123.3" r="1.4" fill="#fdf0f0" stroke="#c8959c" stroke-width="0.7"/>
<circle cx="514.2" cy="127.0" r="1.4" fill="#fdf0f0" stroke="#c8959c" stroke-width="0.7"/>
<text x="384.5" y="36.8" font-size="8.6" font-weight="bold" text-anchor="start" fill="#1e1e1e" letter-spacing="-0.1">Ow1</text>
<text x="404.4" y="26.3" font-size="8.6" font-weight="bold" text-anchor="start" fill="#1e1e1e" letter-spacing="-0.1">Ow3</text>
<text x="414" y="40" font-size="8.6" font-weight="bold" text-anchor="start" fill="#1e1e1e" letter-spacing="-0.1">Ow2</text>
<text x="389" y="63.3" font-size="8.6" font-weight="bold" text-anchor="start" fill="#1e1e1e" letter-spacing="-0.1">O1</text>
<text x="416" y="67.2" font-size="8.6" font-weight="bold" text-anchor="start" fill="#1e1e1e" letter-spacing="-0.1">O2</text>
<text x="430.6" y="63.3" font-size="8.6" font-weight="bold" text-anchor="start" fill="#1e1e1e" letter-spacing="-0.1">O3</text>
<text x="415.8" y="78.8" font-size="8.6" font-weight="bold" text-anchor="start" fill="#1e1e1e" letter-spacing="-0.1">O4</text>
<text x="389" y="94.3" font-size="8.6" font-weight="bold" text-anchor="start" fill="#1e1e1e" letter-spacing="-0.1">O7</text>
<text x="403.3" y="94.7" font-size="8.6" font-weight="bold" text-anchor="start" fill="#1e1e1e" letter-spacing="-0.1">O8</text>
<text x="423.3" y="89.3" font-size="8.6" font-weight="bold" text-anchor="start" fill="#1e1e1e" letter-spacing="-0.1">O9</text>
<text x="432.5" y="104.7" font-size="8.6" font-weight="bold" text-anchor="start" fill="#1e1e1e" letter-spacing="-0.1">O10</text>
<text x="392.5" y="119.7" font-size="8.6" font-weight="bold" text-anchor="start" fill="#1e1e1e" letter-spacing="-0.1">O11</text>
<text x="425" y="120" font-size="8.6" font-weight="bold" text-anchor="start" fill="#1e1e1e" letter-spacing="-0.1">O12</text>
<text x="406.7" y="129.7" font-size="8.6" font-weight="bold" text-anchor="start" fill="#1e1e1e" letter-spacing="-0.1">Ow4</text>
<text x="388.3" y="146.3" font-size="8.6" font-weight="bold" text-anchor="start" fill="#1e1e1e" letter-spacing="-0.1">O5</text>
<text x="401.3" y="146.3" font-size="8.6" font-weight="bold" text-anchor="start" fill="#1e1e1e" letter-spacing="-0.1">O6</text>
<text x="419.2" y="143.3" font-size="8.6" font-weight="bold" text-anchor="start" fill="#1e1e1e" letter-spacing="-0.1">O7</text>
<text x="426.7" y="157.2" font-size="8.6" font-weight="bold" text-anchor="start" fill="#1e1e1e" letter-spacing="-0.1">O8</text>
<text x="388.3" y="171.8" font-size="8.6" font-weight="bold" text-anchor="start" fill="#1e1e1e" letter-spacing="-0.1">O14</text>
<text x="420" y="171.3" font-size="8.6" font-weight="bold" text-anchor="start" fill="#1e1e1e" letter-spacing="-0.1">O13</text>
<circle cx="394.2" cy="31.9" r="2.4" fill="url(#gO)"/>
<circle cx="393.4" cy="24.2" r="1.4" fill="#fdf0f0" stroke="#c8959c" stroke-width="0.7"/>
<circle cx="395.9" cy="28.3" r="1.4" fill="#fdf0f0" stroke="#c8959c" stroke-width="0.7"/>
<text x="248.5" y="19" font-size="18" font-weight="normal" text-anchor="start" fill="#222" letter-spacing="0.6">(b)</text>
<text x="261.4" y="50.5" font-size="11.4" font-weight="bold" text-anchor="start" fill="#111" letter-spacing="0.55">@Ca1</text>
<text x="261.4" y="101.7" font-size="11.4" font-weight="bold" text-anchor="start" fill="#111" letter-spacing="0.55">@Ca2</text>
<text x="261.4" y="153.3" font-size="11.4" font-weight="bold" text-anchor="start" fill="#111" letter-spacing="0.55">@Ca3</text>
<polygon points="386.5,45.0 367,45.0 367,43.5 349,46.8 367,50.099999999999994 367,48.599999999999994 386.5,48.599999999999994" fill="#5ab6dc"/>
<polygon points="387.1,96.4 367.7,96.4 367.7,94.9 349.7,98.2 367.7,101.5 367.7,100.0 387.1,100.0" fill="#5ab6dc"/>
<polygon points="385.7,148.1 366.1,148.1 366.1,146.6 348.6,149.9 366.1,153.20000000000002 366.1,151.70000000000002 385.7,151.70000000000002" fill="#5ab6dc"/>
<polygon points="438.5,42.7 458.6,42.7 458.6,41.2 476.3,44.5 458.6,47.8 458.6,46.3 438.5,46.3" fill="#5ab6dc"/>
<polygon points="440.4,93.9 461.1,93.9 461.1,92.4 478,95.7 461.1,99.0 461.1,97.5 440.4,97.5" fill="#5ab6dc"/>
<polygon points="438.7,146.6 458.6,146.6 458.6,145.1 476.3,148.4 458.6,151.70000000000002 458.6,150.20000000000002 438.7,150.20000000000002" fill="#5ab6dc"/>
<text x="362" y="41" font-size="11.4" font-weight="bold" text-anchor="start" fill="#111" >Mg</text>
<text x="363.1" y="92.4" font-size="11.4" font-weight="bold" text-anchor="start" fill="#111" >Mg</text>
<text x="361.7" y="144.6" font-size="11.4" font-weight="bold" text-anchor="start" fill="#111" >Mg</text>
<text x="440.4" y="39.1" font-size="11.6" font-weight="bold" text-anchor="start" fill="#111" >Sr/Ba</text>
<text x="442" y="89.7" font-size="11.6" font-weight="bold" text-anchor="start" fill="#111" >Sr/Ba</text>
<text x="440.4" y="144.4" font-size="11.6" font-weight="bold" text-anchor="start" fill="#111" >Sr/Ba</text>
<circle cx="455.9" cy="182.9" r="3.3" fill="url(#gCa)"/>
<text x="461.8" y="185.8" font-size="8.5" font-weight="bold" text-anchor="start" fill="#333" >Ca</text>
<circle cx="486.2" cy="182.9" r="3" fill="url(#gO)"/>
<text x="491.4" y="185.8" font-size="8.5" font-weight="bold" text-anchor="start" fill="#333" >O</text>
<circle cx="509.8" cy="182.9" r="2.8" fill="#fbe6e6" stroke="#c88f98" stroke-width="1.2"/>
<text x="515" y="185.8" font-size="8.5" font-weight="bold" text-anchor="start" fill="#333" >H</text>
</svg>
</body></html>
